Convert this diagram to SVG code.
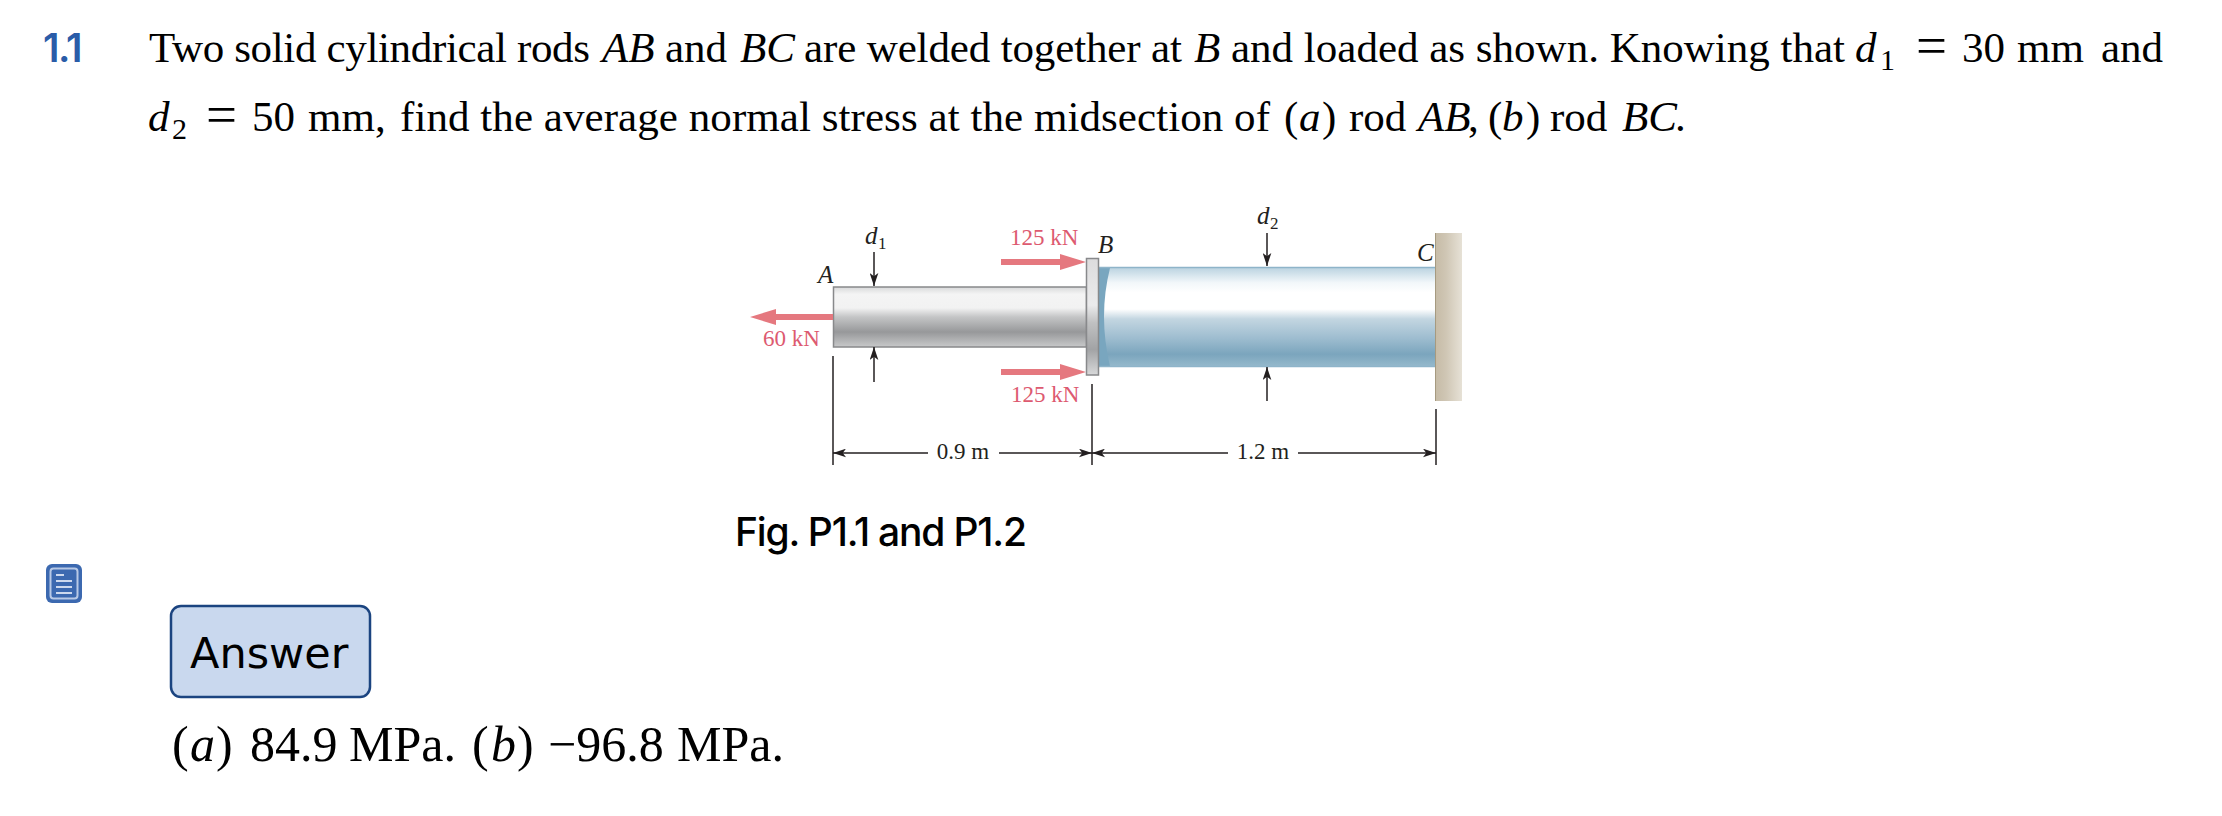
<svg xmlns="http://www.w3.org/2000/svg" width="2222" height="816" viewBox="0 0 2222 816">
<style>
text{font-family:"Liberation Serif","Times New Roman",serif;fill:#000}
.t{font-size:43px}
.i{font-style:italic}
.s{font-size:30px}
.e{font-size:55px}
.a{font-size:50px}
.l{font-size:23px;fill:#231f20}
.il{font-size:25px;font-style:italic;fill:#231f20}
.sb{font-size:17px;fill:#231f20}
.r{fill:#dd5a70}
.dim{stroke:#231f20;stroke-width:1.5;fill:none}
.da{stroke:#231f20;stroke-width:1.5;fill:none;marker-end:url(#ah)}
.f{fill:#e5787f}
</style>
<defs>
<marker id="ah" viewBox="0 0 12 8" refX="12" refY="4" markerWidth="13" markerHeight="9" markerUnits="userSpaceOnUse" orient="auto"><path d="M0,0 L12,4 L0,8 L3,4 Z" fill="#231f20"/></marker>
<linearGradient id="gAB" x1="0" y1="0" x2="0" y2="1"><stop offset="0" stop-color="#d8d9da"/><stop offset=".12" stop-color="#f4f4f4"/><stop offset=".35" stop-color="#f2f2f2"/><stop offset=".5" stop-color="#c4c5c6"/><stop offset=".75" stop-color="#97989a"/><stop offset="1" stop-color="#c8c9ca"/></linearGradient>
<linearGradient id="gFl" x1="0" y1="0" x2="0" y2="1"><stop offset="0" stop-color="#dcdcdd"/><stop offset=".4" stop-color="#ebebec"/><stop offset=".55" stop-color="#c0c1c2"/><stop offset=".78" stop-color="#a2a3a5"/><stop offset="1" stop-color="#d8d9da"/></linearGradient>
<linearGradient id="gBC" x1="0" y1="0" x2="0" y2="1"><stop offset="0" stop-color="#bcd4e1"/><stop offset=".15" stop-color="#f2f7fa"/><stop offset=".25" stop-color="#fff"/><stop offset=".42" stop-color="#fff"/><stop offset=".52" stop-color="#c3d6e1"/><stop offset=".72" stop-color="#9dbccf"/><stop offset=".88" stop-color="#7ba5bd"/><stop offset="1" stop-color="#94b8cb"/></linearGradient>
<linearGradient id="gW" x1="0" y1="0" x2="1" y2="0"><stop offset="0" stop-color="#c6bba6"/><stop offset=".4" stop-color="#cfc6b4"/><stop offset="1" stop-color="#e6e1d6"/></linearGradient>
</defs>

<g id="problem-number"><text x="43 58 66" y="62" style="font-family:Inter,Lato,sans-serif;font-weight:600;font-size:39px;fill:#2a5ca8">1.1</text></g>

<g id="problem-text">
<text class="t" x="149" y="62" textLength="441">Two solid cylindrical rods</text>
<text class="t i" x="602" y="62">AB</text>
<text class="t" x="665" y="62">and</text>
<text class="t i" x="740" y="62">BC</text>
<text class="t" x="804" y="62" textLength="378">are welded together at</text>
<text class="t i" x="1194" y="62">B</text>
<text class="t" x="1231" y="62" textLength="614">and loaded as shown. Knowing that</text>
<text class="t i" x="1855" y="62">d</text>
<text class="s" x="1880" y="70">1</text>
<text class="e" x="1916" y="64">=</text>
<text class="t" x="1962" y="62">30</text>
<text class="t" x="2017" y="62">mm</text>
<text class="t" x="2101" y="62">and</text>
<text class="t i" x="148" y="131">d</text>
<text class="s" x="172" y="139">2</text>
<text class="e" x="206" y="133">=</text>
<text class="t" x="252" y="131">50</text>
<text class="t" x="308" y="131">mm,</text>
<text class="t" x="400" y="131" textLength="870">find the average normal stress at the midsection of</text>
<text class="t" x="1284" y="131">(</text>
<text class="t i" x="1299" y="131">a</text>
<text class="t" x="1322" y="131">)</text>
<text class="t" x="1349" y="131">rod</text>
<text class="t i" x="1418" y="131">AB</text>
<text class="t" x="1468" y="131">,</text>
<text class="t" x="1488" y="131">(</text>
<text class="t i" x="1502" y="131">b</text>
<text class="t" x="1526" y="131">)</text>
<text class="t" x="1550" y="131">rod</text>
<text class="t i" x="1622" y="131">BC</text>
<text class="t" x="1675" y="131">.</text>
</g>

<g id="figure-parts">
<g id="wall"><rect x="1435" y="233" width="27" height="168" fill="url(#gW)"/><line x1="1435.5" y1="233" x2="1435.5" y2="401" stroke="#a69a80" stroke-width="1"/></g>
<g id="rod-BC"><rect x="1099" y="267" width="336" height="100" fill="#79a6bf"/><path d="M1110,268 Q1098,316 1110,366 L1435,366 L1435,268 Z" fill="url(#gBC)"/><path d="M1099,267.5H1435M1099,366.5H1435" stroke="#8eb4c9" stroke-width="1.5" fill="none"/></g>
<g id="rod-AB"><rect x="833.5" y="287" width="253" height="60" fill="url(#gAB)" stroke="#88898b" stroke-width="1.5"/></g>
<g id="flange"><rect x="1086.5" y="258.500" width="12" height="116.500" fill="url(#gFl)" stroke="#88898b" stroke-width="1.500"/></g>
</g>

<g id="connectors">
<path class="f" d="M750,317 L776,309 V314 H833 V320 H776 V325 Z"/>
<path class="f" d="M1086,262 L1060,254 V259 H1001 V265 H1060 V270 Z"/>
<path class="f" d="M1086,372 L1060,364 V369 H1001 V375 H1060 V380 Z"/>
<line class="da" x1="874" y1="252" x2="874" y2="286"/>
<line class="da" x1="874" y1="382" x2="874" y2="347"/>
<line class="da" x1="1267" y1="233" x2="1267" y2="266"/>
<line class="da" x1="1267" y1="401" x2="1267" y2="367"/>
<line class="dim" x1="833" y1="356" x2="833" y2="465"/>
<line class="dim" x1="1092" y1="384" x2="1092" y2="465"/>
<line class="dim" x1="1436" y1="409" x2="1436" y2="465"/>
<line class="da" x1="928" y1="453" x2="833" y2="453"/>
<line class="da" x1="999" y1="453" x2="1092" y2="453"/>
<line class="da" x1="1228" y1="453" x2="1092" y2="453"/>
<line class="da" x1="1298" y1="453" x2="1436" y2="453"/>
</g>

<g id="figure-labels">
<text class="l r" x="763" y="346">60 kN</text>
<text class="l r" x="1010" y="245">125 kN</text>
<text class="l r" x="1011" y="402">125 kN</text>
<text class="l" x="963" y="459" text-anchor="middle">0.9 m</text>
<text class="l" x="1263" y="459" text-anchor="middle">1.2 m</text>
<text class="il" x="818" y="283">A</text>
<text class="il" x="1098" y="253">B</text>
<text class="il" x="1417" y="261">C</text>
<text class="il" x="865" y="244">d</text><text class="sb" x="878" y="249">1</text>
<text class="il" x="1257" y="224">d</text><text class="sb" x="1270" y="229">2</text>
</g>

<g id="caption"><text x="735" y="546" textLength="292" style="font-family:Inter,Lato,sans-serif;font-weight:500;font-size:39px">Fig. P1.1 and P1.2</text></g>

<g id="icon">
<rect x="46" y="564" width="36" height="39" rx="6" fill="#3c69b0"/>
<rect x="50.500" y="568.500" width="27" height="30" rx="3" fill="none" stroke="#b8c9e6" stroke-width="2"/>
<path d="M56,575H64M56,581H72M56,587H72M56,593H72" stroke="#cdd9ee" stroke-width="2" fill="none"/>
</g>

<g id="answer-button">
<rect x="171" y="606" width="199" height="91" rx="10" fill="#c9d8ee" stroke="#1b4480" stroke-width="2.500"/>
<text x="190" y="668" style="font-family:'DejaVu Sans',sans-serif;font-size:43px">Answer</text>
</g>

<g id="answer-text">
<text class="a" x="172" y="761">(</text>
<text class="a i" x="190" y="761">a</text>
<text class="a" x="216" y="761">)</text>
<text class="a" x="250" y="761">84.9</text>
<text class="a" x="349" y="761">MPa.</text>
<text class="a" x="472" y="761">(</text>
<text class="a i" x="491" y="761">b</text>
<text class="a" x="517" y="761">)</text>
<text class="a" x="548" y="761">−96.8</text>
<text class="a" x="677" y="761">MPa.</text>
</g>
</svg>
